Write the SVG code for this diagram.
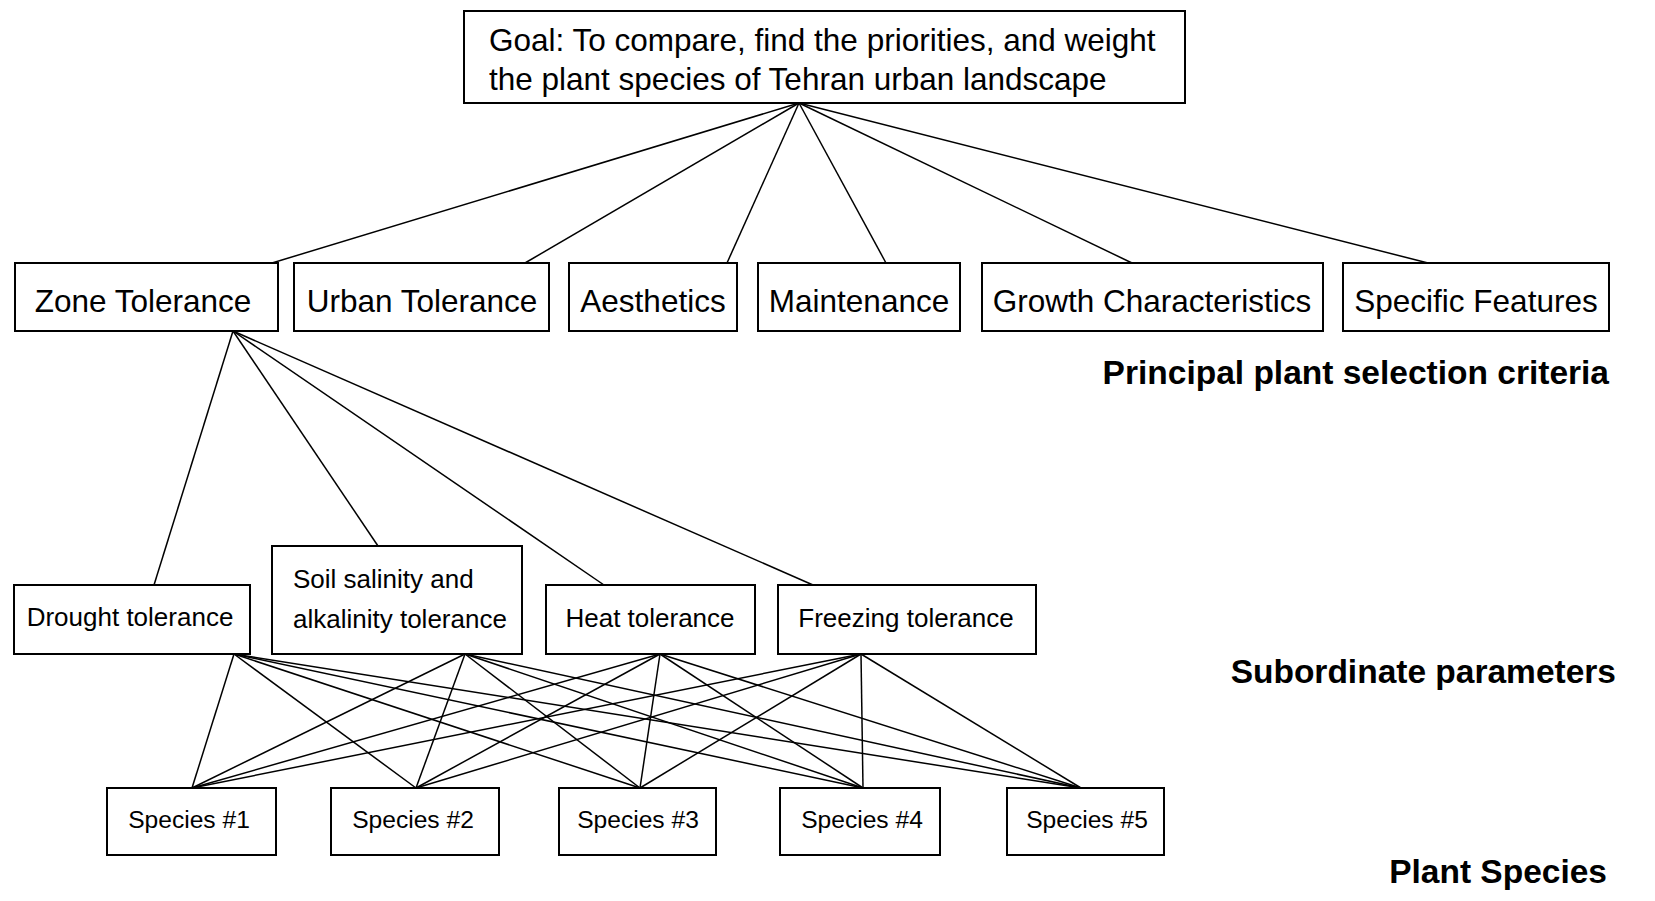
<svg xmlns="http://www.w3.org/2000/svg" width="1655" height="901" viewBox="0 0 1655 901">
<style>
rect{fill:#fff;stroke:#000;stroke-width:2}
line{stroke:#000;stroke-width:1.5}
text{font-family:"Liberation Sans",Arial,sans-serif;fill:#000}
.a{font-size:31.5px;text-anchor:middle}
.b{font-size:26px;text-anchor:middle}
.c{font-size:26px}
.g{font-size:31.5px}
.sp{font-size:24.6px;text-anchor:middle}
.h{font-size:33.5px;font-weight:bold;text-anchor:end}
</style>
<rect width="1655" height="901" style="fill:#fff;stroke:none"/>
<g id="connectors">
<line x1="799" y1="103" x2="272" y2="263"/><line x1="799" y1="103" x2="525" y2="263"/><line x1="799" y1="103" x2="727" y2="263"/><line x1="799" y1="103" x2="886" y2="263"/><line x1="799" y1="103" x2="1132" y2="263"/><line x1="799" y1="103" x2="1428" y2="263"/>
<line x1="233" y1="331" x2="154" y2="585"/><line x1="233" y1="331" x2="378" y2="546"/><line x1="233" y1="331" x2="604" y2="585"/><line x1="233" y1="331" x2="813" y2="585"/>
<g>
<line x1="234" y1="654" x2="192" y2="788"/><line x1="234" y1="654" x2="416" y2="788"/><line x1="234" y1="654" x2="640" y2="788"/><line x1="234" y1="654" x2="863" y2="788"/><line x1="234" y1="654" x2="1081" y2="788"/>
<line x1="465" y1="654" x2="192" y2="788"/><line x1="465" y1="654" x2="416" y2="788"/><line x1="465" y1="654" x2="640" y2="788"/><line x1="465" y1="654" x2="863" y2="788"/><line x1="465" y1="654" x2="1081" y2="788"/>
<line x1="660" y1="654" x2="192" y2="788"/><line x1="660" y1="654" x2="416" y2="788"/><line x1="660" y1="654" x2="640" y2="788"/><line x1="660" y1="654" x2="863" y2="788"/><line x1="660" y1="654" x2="1081" y2="788"/>
<line x1="861" y1="654" x2="192" y2="788"/><line x1="861" y1="654" x2="416" y2="788"/><line x1="861" y1="654" x2="640" y2="788"/><line x1="861" y1="654" x2="863" y2="788"/><line x1="861" y1="654" x2="1081" y2="788"/>
</g>
</g>
<g id="goal"><rect x="464" y="11" width="721" height="92"/><text class="g" x="489" y="51">Goal: To compare, find the priorities, and weight</text><text class="g" x="489" y="90">the plant species of Tehran urban landscape</text></g>
<g id="zone"><rect x="15" y="263" width="263" height="68"/><text class="a" x="143" y="312">Zone Tolerance</text></g>
<g id="urban"><rect x="294" y="263" width="255" height="68"/><text class="a" x="422" y="312">Urban Tolerance</text></g>
<g id="aesthetics"><rect x="569" y="263" width="168" height="68"/><text class="a" x="653" y="312">Aesthetics</text></g>
<g id="maintenance"><rect x="758" y="263" width="202" height="68"/><text class="a" x="859" y="312">Maintenance</text></g>
<g id="growth"><rect x="982" y="263" width="341" height="68"/><text class="a" x="1152" y="312">Growth Characteristics</text></g>
<g id="specific"><rect x="1343" y="263" width="266" height="68"/><text class="a" x="1476" y="312">Specific Features</text></g>
<text class="h" x="1609" y="384">Principal plant selection criteria</text>
<g id="drought"><rect x="14" y="585" width="236" height="69"/><text class="b" x="130" y="626">Drought tolerance</text></g>
<g id="soil"><rect x="272" y="546" width="250" height="108"/><text class="c" x="293" y="588">Soil salinity and</text><text class="c" x="293" y="628">alkalinity tolerance</text></g>
<g id="heat"><rect x="546" y="585" width="209" height="69"/><text class="b" x="650" y="627">Heat tolerance</text></g>
<g id="freezing"><rect x="778" y="585" width="258" height="69"/><text class="b" x="906" y="627">Freezing tolerance</text></g>
<text class="h" x="1616" y="683">Subordinate parameters</text>
<g id="s1"><rect x="107" y="788" width="169" height="67"/><text class="sp" x="189" y="828">Species #1</text></g>
<g id="s2"><rect x="331" y="788" width="168" height="67"/><text class="sp" x="413" y="828">Species #2</text></g>
<g id="s3"><rect x="559" y="788" width="157" height="67"/><text class="sp" x="638" y="828">Species #3</text></g>
<g id="s4"><rect x="780" y="788" width="160" height="67"/><text class="sp" x="862" y="828">Species #4</text></g>
<g id="s5"><rect x="1007" y="788" width="157" height="67"/><text class="sp" x="1087" y="828">Species #5</text></g>
<text class="h" x="1607" y="883">Plant Species</text>
</svg>
